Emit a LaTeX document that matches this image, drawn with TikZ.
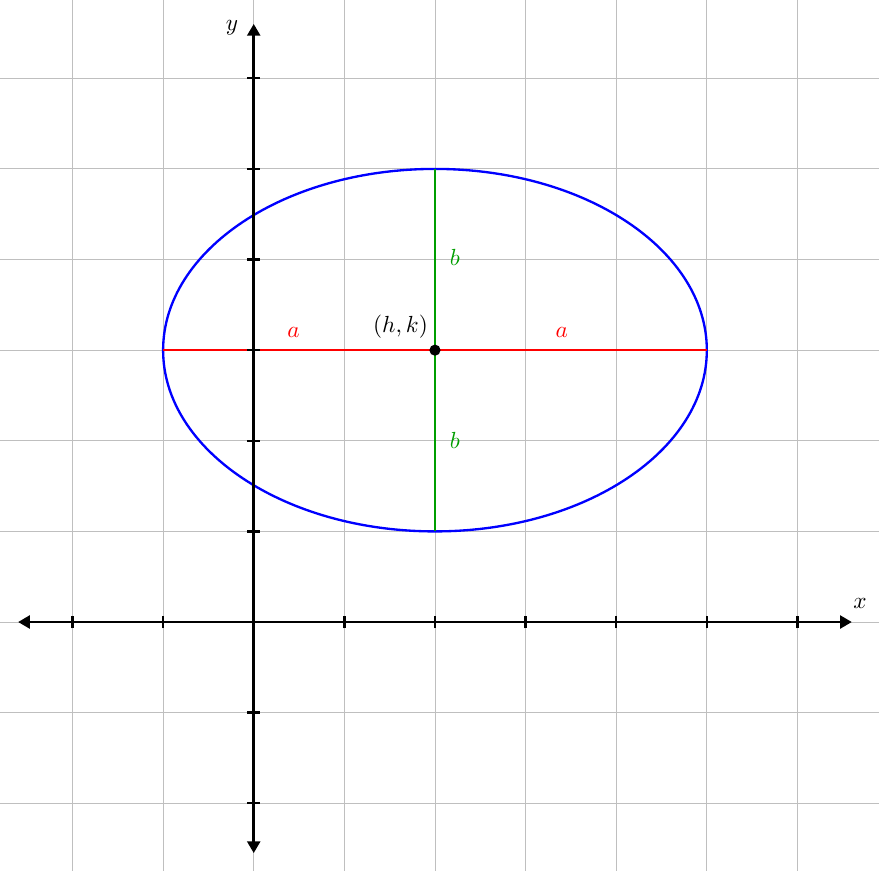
\documentclass[tikz,border=0pt]{standalone}
\usetikzlibrary{arrows.meta}
\definecolor{gridgray}{gray}{0.75}
\definecolor{mygreen}{rgb}{0,0.62,0}
\tikzset{
  gridline/.style={draw=gridgray, line width=0.4pt},
  axisline/.style={draw=black, line width=1.1pt, {Triangle[length=5pt,width=5.5pt]}-{Triangle[length=5pt,width=5.5pt]}},
  tickmark/.style={draw=black, line width=1pt},
  ellipseline/.style={draw=blue, line width=1pt},
  semiaxisa/.style={draw=red, line width=1pt},
  semiaxisb/.style={draw=mygreen, line width=1pt},
  lbl/.style={inner sep=0pt}
}
\begin{document}
\begin{tikzpicture}[x=1.367cm,y=1.367cm]
\useasboundingbox (-2.8,-2.737) rectangle (6.9,6.864);
\begin{scope}
\clip (-2.8,-2.737) rectangle (6.9,6.864);
\foreach \i in {-2,...,6} {
  \draw[gridline] (\i,-3) -- (\i,7);
  \draw[gridline] (-3,\i) -- (7,\i);
}
\end{scope}
\coordinate (C) at (2,3);
\coordinate (L) at (-1,3);
\coordinate (R) at (5,3);
\coordinate (T) at (2,5);
\coordinate (B) at (2,1);
\draw[ellipseline] (C) ellipse [x radius=3, y radius=2];
\draw[semiaxisa] (L) -- (C) -- (R);
\draw[semiaxisb] (B) -- (C) -- (T);
\coordinate (xl) at (-2.6,0);
\coordinate (xr) at (6.6,0);
\coordinate (yb) at (0,-2.55);
\coordinate (yt) at (0,6.6);
\draw[axisline] (xl) -- (xr);
\draw[axisline] (yb) -- (yt);
\foreach \i in {-2,-1,1,2,3,4,5,6} {
  \draw[tickmark] (\i,-0.07) -- (\i,0.07);
  \draw[tickmark] (-0.07,\i) -- (0.07,\i);
}
\node[lbl] (xlab) at (6.69,0.2) {$x$};
\node[lbl] (ylab) at (-0.24,6.555) {$y$};
\node[lbl, text=red] (a1) at (0.44,3.2) {$a$};
\node[lbl, text=red] (a2) at (3.4,3.2) {$a$};
\node[lbl, text=mygreen] (b1) at (2.22,4.02) {$b$};
\node[lbl, text=mygreen] (b2) at (2.22,2.0) {$b$};
\node[lbl] (hk) at (1.62,3.26) {$(h,k)$};
\fill[black] (C) circle (2.4pt);
\end{tikzpicture}
\end{document}
